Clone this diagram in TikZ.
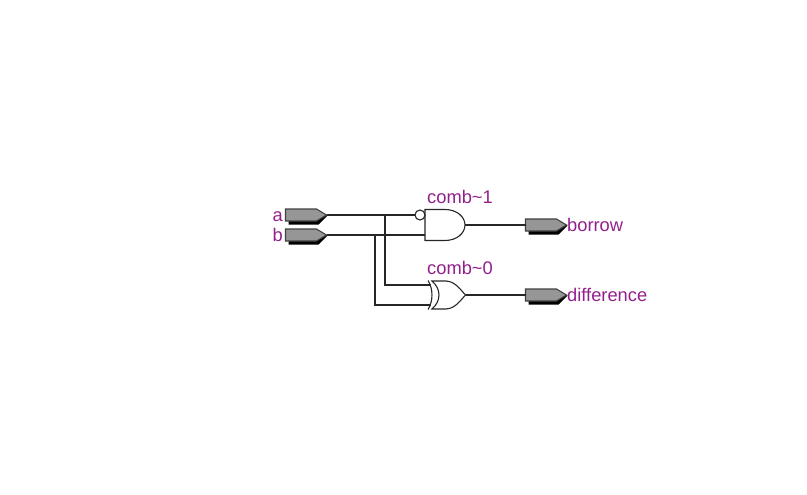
\documentclass[tikz,border=0pt]{standalone}
\usepackage{fontspec}
\setmainfont{Liberation Sans}
\definecolor{labelcol}{RGB}{146,32,140}
\definecolor{pincol}{RGB}{150,150,150}
\tikzset{
    wire/.style={draw=black!85, line width=1.1pt},
    label/.style={text=labelcol, font=\fontsize{18.3}{18.3}\selectfont, inner sep=0pt},
    pinshape/.pic={
        \fill[black] (3,-3) -- (32,-3) -- (42,0.5) -- (33,9.5) -- (3,9.5) -- cycle;
        \filldraw[fill=pincol, draw=black!75, line width=1.1pt]
            (0,-6) -- (31,-6) -- (41,0) -- (31,6) -- (0,6) -- cycle;
        \coordinate (-in) at (0,0);
        \coordinate (-out) at (41,0);
    },
    andgate/.pic={
        \draw[wire] (20,-15.5) -- (0,-15.5) -- (0,15.5) -- (20,15.5)
            .. controls (32,15.5) and (40,8) .. (40,0)
            .. controls (40,-8) and (32,-15.5) .. (20,-15.5);
        \draw[wire] (-5,-10) circle (5);
        \coordinate (-a) at (-10,-10);
        \coordinate (-b) at (0,10);
        \coordinate (-out) at (40,0);
    },
    xorgate/.pic={
        \draw[wire] (5,-14) .. controls (14.3,-6) and (14.3,6) .. (5,14)
            -- (19,14) .. controls (28,13.5) and (33,6) .. (38.5,0)
            .. controls (33,-6) and (28,-13.5) .. (19,-14) -- cycle;
        \draw[wire] (1,-14.5) .. controls (6.3,-6) and (6.3,6) .. (1,14.5);
        \coordinate (-a) at (3.7,-10);
        \coordinate (-b) at (3.7,10);
        \coordinate (-out) at (38.5,0);
    },
}
\begin{document}
\begin{tikzpicture}[x=1pt, y=-1pt]
    \useasboundingbox (0,0) rectangle (807,495);
    % pins
    \pic (a) at (285.5,215) {pinshape};
    \pic (b) at (285.5,235) {pinshape};
    \pic (borrow) at (525.5,225) {pinshape};
    \pic (difference) at (525.5,295) {pinshape};
    % gates
    \pic (comb1) at (425,225) {andgate};
    \pic (comb0) at (427,295) {xorgate};
    \coordinate (tapa) at (385,215);
    \coordinate (tapb) at (375,235);
    % wires
    \draw[wire] (a-out) -- (comb1-a);
    \draw[wire] (b-out) -- (comb1-b);
    \draw[wire] (tapa) |- (comb0-a);
    \draw[wire] (tapb) |- (comb0-b);
    \draw[wire] (comb1-out) -- (borrow-in);
    \draw[wire] (comb0-out) -- (difference-in);
    % labels
    \node[label, anchor=base east] (alabel) at (283,221) {a};
    \node[label, anchor=base east] (blabel) at (283,241) {b};
    \node[label, anchor=base west] (comb1label) at (427,203) {comb\string~1};
    \node[label, anchor=base west] (comb0label) at (427,274) {comb\string~0};
    \node[label, anchor=base west] (borrowlabel) at (567,231) {borrow};
    \node[label, anchor=base west] (differencelabel) at (567,301) {difference};
\end{tikzpicture}
\end{document}
